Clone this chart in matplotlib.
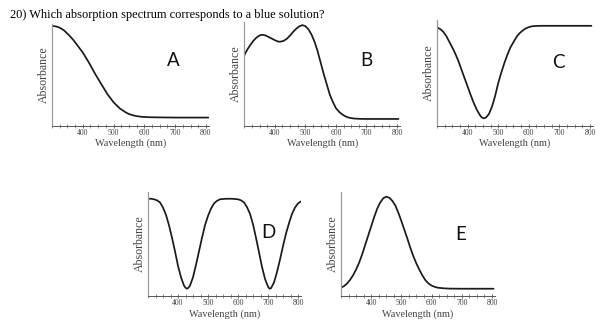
import matplotlib
matplotlib.use("Agg")
import matplotlib.pyplot as plt

W, H = 616, 331

title = "20) Which absorption spectrum corresponds to a blue solution?"
panel_letters = ["A", "B", "C", "D", "E"]
tick_values = [400, 500, 600, 700, 800]
tick_labels = ["400", "500", "600", "700", "800"]
x_label = "Wavelength (nm)"
y_label = "Absorbance"

wl_a = [300, 310, 320, 330, 340, 350, 360, 370, 380, 390, 400, 410, 420, 430, 440, 450, 460, 470, 480, 490,
        500, 510, 520, 530, 540, 550, 560, 570, 580, 590, 600, 620, 640, 670, 700, 808]
abs_a = [0.98, 0.978, 0.97, 0.955, 0.935, 0.905, 0.875, 0.84, 0.80, 0.76, 0.72, 0.67, 0.62, 0.565, 0.51, 0.46,
         0.41, 0.36, 0.31, 0.27, 0.23, 0.20, 0.17, 0.15, 0.13, 0.115, 0.105, 0.097, 0.092, 0.088, 0.086, 0.083,
         0.082, 0.081, 0.08, 0.08]

wl_b = [300, 310, 320, 330, 340, 350, 355, 360, 370, 380, 390, 400, 410, 415, 420, 430, 440, 450, 460, 470, 480,
        490, 500, 510, 520, 530, 540, 550, 560, 570, 580, 590, 600, 610, 620, 630, 640, 650, 660, 680, 700, 805]
abs_b = [0.68, 0.735, 0.78, 0.82, 0.85, 0.87, 0.875, 0.876, 0.87, 0.855, 0.84, 0.825, 0.812, 0.81, 0.811, 0.82,
         0.84, 0.87, 0.905, 0.935, 0.958, 0.97, 0.96, 0.93, 0.88, 0.81, 0.72, 0.61, 0.50, 0.40, 0.30, 0.23, 0.17,
         0.135, 0.11, 0.092, 0.08, 0.073, 0.069, 0.066, 0.065, 0.065]

wl_c = [300, 310, 320, 330, 340, 350, 360, 370, 380, 390, 400, 410, 420, 430, 440, 445, 452, 460, 470, 480, 490,
        500, 510, 520, 530, 540, 550, 560, 570, 580, 590, 600, 610, 620, 640, 700, 805]
abs_c = [0.93, 0.915, 0.89, 0.85, 0.795, 0.74, 0.68, 0.61, 0.53, 0.45, 0.37, 0.29, 0.215, 0.15, 0.10, 0.08, 0.068,
         0.075, 0.11, 0.18, 0.28, 0.40, 0.50, 0.59, 0.67, 0.74, 0.79, 0.84, 0.875, 0.90, 0.92, 0.932, 0.94, 0.943,
         0.945, 0.945, 0.945]

wl_d = [300, 310, 320, 330, 340, 350, 360, 370, 380, 390, 400, 410, 420, 425, 430, 435, 440, 450, 460, 470, 480,
        490, 500, 510, 520, 530, 540, 560, 580, 600, 610, 620, 630, 640, 650, 660, 670, 680, 690, 700, 705, 710,
        720, 730, 740, 750, 760, 770, 780, 790, 800, 810]
abs_d = [0.935, 0.935, 0.93, 0.92, 0.90, 0.85, 0.78, 0.68, 0.56, 0.43, 0.29, 0.18, 0.10, 0.08, 0.07, 0.08, 0.10,
         0.18, 0.30, 0.43, 0.56, 0.68, 0.77, 0.84, 0.89, 0.915, 0.93, 0.935, 0.935, 0.93, 0.92, 0.90, 0.855, 0.79,
         0.69, 0.56, 0.42, 0.28, 0.165, 0.09, 0.07, 0.075, 0.13, 0.23, 0.35, 0.48, 0.60, 0.70, 0.79, 0.85, 0.89,
         0.91]

wl_e = [300, 310, 320, 330, 340, 350, 360, 370, 380, 390, 400, 410, 420, 430, 440, 450, 460, 470, 480, 490, 500,
        510, 520, 530, 540, 550, 560, 570, 580, 590, 600, 610, 620, 640, 660, 700, 805]
abs_e = [0.08, 0.095, 0.12, 0.155, 0.20, 0.255, 0.32, 0.40, 0.49, 0.58, 0.67, 0.76, 0.84, 0.90, 0.94, 0.955, 0.945,
         0.915, 0.87, 0.80, 0.72, 0.635, 0.55, 0.46, 0.38, 0.31, 0.25, 0.195, 0.15, 0.12, 0.10, 0.088, 0.08, 0.074,
         0.071, 0.07, 0.07]

fig = plt.figure(figsize=(W / 100, H / 100), dpi=100)


def panel(left, top, right, bottom, wl, ab, letter, lx, ly, boxed=False):
    ax = fig.add_axes([left / W, 1 - bottom / H, (right - left) / W, (bottom - top) / H])
    ax.plot(wl, ab, color="#1a1a1a", lw=1.25, solid_joinstyle="round", solid_capstyle="round")
    ax.set_xlim(300, 810)
    ax.set_ylim(0, 1)
    for s in ("top", "right"):
        ax.spines[s].set_visible(False)
    ax.spines["left"].set_color("#9a9a9a")
    ax.spines["left"].set_linewidth(0.9)
    ax.spines["bottom"].set_color("#555555")
    ax.spines["bottom"].set_linewidth(0.7)
    ax.set_yticks([])
    ax.set_xticks(tick_values)
    ax.set_xticklabels(tick_labels, family="Liberation Serif", fontsize=5.6, color="#444444")
    ax.set_xticks(list(range(300, 811, 25)), minor=True)
    ax.tick_params(axis="x", which="major", direction="inout", length=3, width=0.6, color="#555555", pad=0.8)
    ax.tick_params(axis="x", which="minor", direction="inout", length=2.2, width=0.5, color="#666666")
    ax.set_xlabel(x_label, family="Liberation Serif", fontsize=7.4, color="#444444", labelpad=1.4)
    wpx = right - left
    ax.text(-8 / wpx, 0.5, y_label, transform=ax.transAxes, rotation=90, ha="center", va="center",
            family="Liberation Serif", fontsize=8.6, color="#444444")
    kw = {}
    if boxed:
        kw["bbox"] = dict(facecolor="white", edgecolor="none", pad=0.5)
    fig.text(lx / W, 1 - ly / H, letter, ha="center", va="center", family="Lato", fontsize=13.5,
             color="#111111", **kw)
    return ax


panel(52, 24, 209, 125.7, wl_a, abs_a, panel_letters[0], 173, 60)
panel(244.3, 22, 400, 125.7, wl_b, abs_b, panel_letters[1], 366, 60)
panel(437, 20, 593, 125.5, wl_c, abs_c, panel_letters[2], 558, 62)
panel(148, 192, 301, 296, wl_d, abs_d, panel_letters[3], 268, 232, boxed=True)
panel(341, 192, 495, 296, wl_e, abs_e, panel_letters[4], 461, 234)

t = fig.text(10 / W, 1 - 15 / H, title, ha="left", va="center", family="Liberation Serif", fontsize=9,
             color="#000000")
fig.canvas.draw()
bb = t.get_window_extent(renderer=fig.canvas.get_renderer())
t.set_fontsize(9 * 315 / bb.width)

fig.savefig("out.png", dpi=100)
